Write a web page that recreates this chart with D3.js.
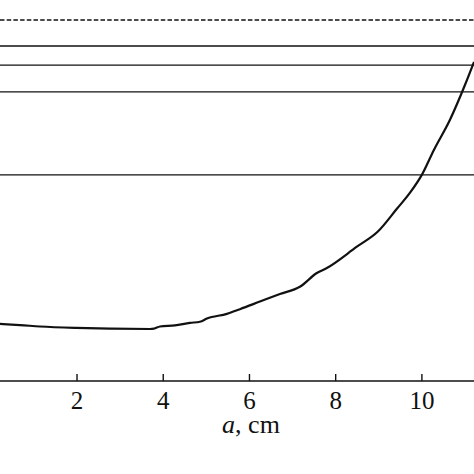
<!DOCTYPE html>
<meta charset="utf-8">
<style>
  body { margin: 0; background: #fff; }
  .label { font-family: "Liberation Serif", serif; font-size: 26px; fill: #111; }
</style>
<body>
<svg width="474" height="474"></svg>
<script src="https://d3js.org/d3.v7.min.js"></script>
<script>

// curve (y in arbitrary units)
var curveA = [0.225, 0.689, 1.152, 1.987, 2.775, 3.703, 3.796, 3.935, 4.283, 4.631, 4.863, 5.025,
              5.489, 5.790, 6.254, 6.718, 7.181, 7.575, 7.807, 8.503, 8.990, 9.431, 9.732, 10.01,
              10.29, 10.66, 11.01, 11.22];
var curveY = [15.8, 15.5, 15.1, 14.7, 14.5, 14.4, 14.5, 15.1, 15.4, 16.1, 16.4, 17.3,
              18.6, 19.9, 22.0, 24.1, 26.1, 29.9, 31.3, 37.2, 41.4, 47.7, 52.1, 57.1,
              64.0, 72.3, 82.0, 88.4];

// horizontal reference levels
var solidLevels = [92.8, 87.5, 80.1, 57.1];
var dashedLevels = [100];

var xTicks = [2, 4, 6, 8, 10];

var svg = d3.select("svg"),
    width = +svg.attr("width"),
    height = +svg.attr("height");

var x = d3.scaleLinear().domain([0, 11.22]).range([-9.7, 474]);
var y = d3.scaleLinear().domain([0, 100]).range([381, 20]);

svg.selectAll(".solid")
    .data(solidLevels)
    .enter().append("line")
    .attr("class", "solid")
    .attr("x1", 0).attr("x2", width)
    .attr("y1", function(d) { return y(d); })
    .attr("y2", function(d) { return y(d); })
    .attr("stroke", "#111")
    .attr("stroke-width", 1.4);

svg.selectAll(".dashed")
    .data(dashedLevels)
    .enter().append("line")
    .attr("class", "dashed")
    .attr("x1", 0).attr("x2", width)
    .attr("y1", function(d) { return y(d); })
    .attr("y2", function(d) { return y(d); })
    .attr("stroke", "#111")
    .attr("stroke-width", 1.4)
    .attr("stroke-dasharray", "4.5,2.2");

var line = d3.line()
    .x(function(d, i) { return x(curveA[i]); })
    .y(function(d) { return y(d); })
    .curve(d3.curveMonotoneX);

svg.append("path")
    .datum(curveY)
    .attr("fill", "none")
    .attr("stroke", "#111")
    .attr("stroke-width", 2.2)
    .attr("d", line);

// x axis with inward ticks
var axis = svg.append("g")
    .attr("transform", "translate(0," + y(0) + ")")
    .call(d3.axisBottom(x).tickValues(xTicks).tickSize(-7).tickPadding(10));
axis.attr("font-family", "Liberation Serif, serif").attr("font-size", 25);
axis.select(".domain").remove();
axis.selectAll(".tick line").attr("stroke", "#111").attr("stroke-width", 1.4);
axis.selectAll(".tick text")
    .attr("dy", "0.72em")
    .attr("fill", "#111")
    .style("font-family", "'Liberation Serif', serif")
    .style("font-size", "25px");
axis.append("line")
    .attr("x1", 0).attr("x2", width)
    .attr("stroke", "#111")
    .attr("stroke-width", 1.4);

var lab = svg.append("text")
    .attr("class", "label")
    .attr("x", 251)
    .attr("y", 433)
    .attr("text-anchor", "middle");
lab.append("tspan").attr("font-style", "italic").text("a");
lab.append("tspan").text(", cm");

</script>
</body>
